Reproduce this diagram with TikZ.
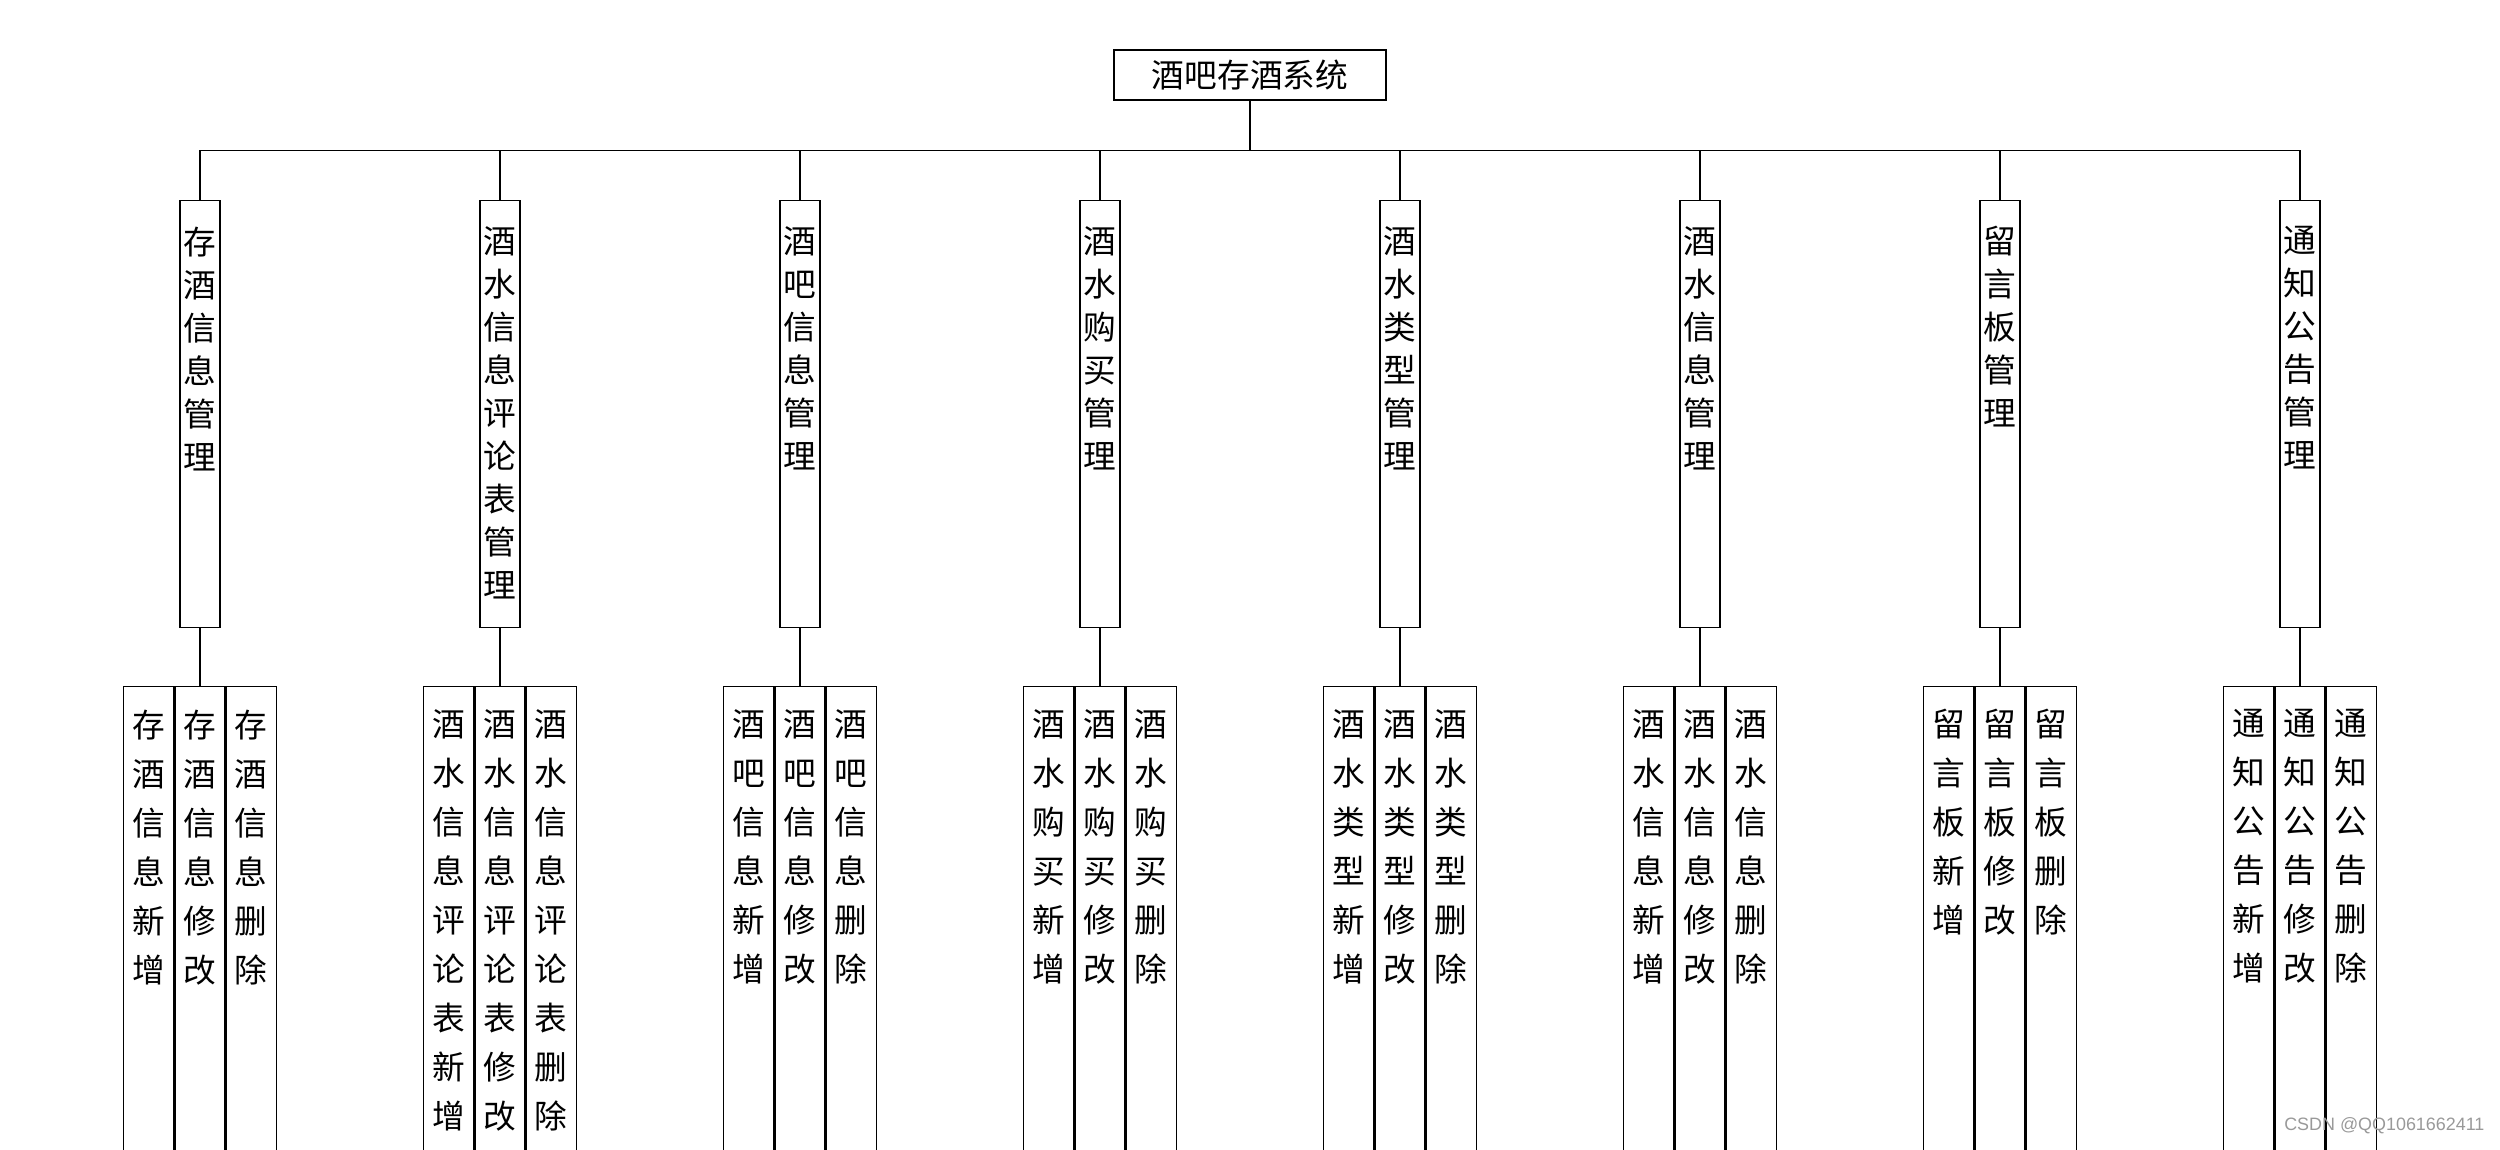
\documentclass[tikz,border=0pt]{standalone}
\usepackage{fontspec}
\setmainfont{Noto Sans CJK SC}
\newfontfamily\wmfont{Liberation Sans}
\XeTeXlinebreaklocale "zh"
\XeTeXlinebreakskip=0pt plus 1pt
\usetikzlibrary{positioning}

\tikzset{
  sysbox/.style={draw, minimum width=2.72cm, minimum height=0.5cm, inner sep=0pt},
  modbox/.style={draw, anchor=north, inner sep=0pt},
  subbox/.style={draw, anchor=north, inner sep=0pt},
}
% one character per line, text at the top of the box
\newcommand{\modtext}[1]{\parbox[t][4.27cm][t]{0.4cm}{\centering\vspace*{0.26cm}\baselineskip=0.43cm #1\par}}
\newcommand{\subtext}[1]{\parbox[t][5.2cm][t]{0.5cm}{\centering\vspace*{0.23cm}\baselineskip=0.49cm #1\par}}

\begin{document}
\begin{tikzpicture}[font=\fontsize{9.3pt}{11pt}\selectfont, line width=0.32pt]
    \useasboundingbox (0,0) rectangle (25,-11.5);
    \node[sysbox] (sys) at (12.5,-0.75) {酒吧存酒系统};
    \foreach \p [count=\i from 0] in {存酒信息,酒水信息评论表,酒吧信息,酒水购买,酒水类型,酒水信息,留言板,通知公告}{
        \node[modbox] (m\i) at (2+3*\i,-2) {\modtext{\p 管理}};
        \draw (sys.south) -- ++(0,-0.5) -| (m\i.north);
        \node[subbox] (edit\i) at (2+3*\i,-6.86) {\subtext{\p 修改}};
        \node[subbox, left=0pt of edit\i] (add\i) {\subtext{\p 新增}};
        \node[subbox, right=0pt of edit\i] (del\i) {\subtext{\p 删除}};
        \draw (m\i.south) -- (edit\i.north);
    }
    \node[font=\wmfont\fontsize{5.1pt}{6pt}\selectfont, text=black!40, anchor=base east, inner sep=0pt] (wm) at (24.85,-11.30) {CSDN @QQ1061662411};
\end{tikzpicture}
\end{document}
